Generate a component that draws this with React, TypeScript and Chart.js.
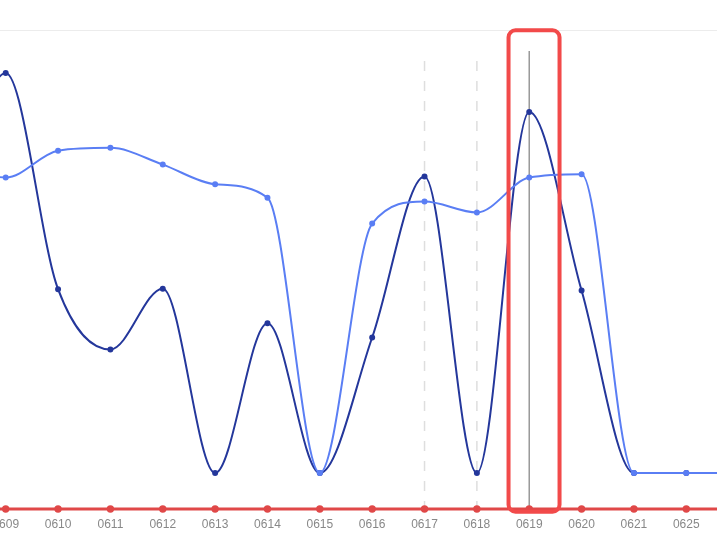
import React, { useEffect, useRef } from "react";
import { Chart, registerables } from "chart.js";

Chart.register(...registerables);

const labels = ["0608", "0609", "0610", "0611", "0612", "0613", "0614", "0615", "0616", "0617", "0618", "0619", "0620", "0621", "0625", "0626"];
const seriesDark = [62, 91.0, 45.9, 33.3, 46.0, 7.5, 38.8, 7.5, 35.8, 69.4, 7.5, 82.9, 45.6, 7.5, 7.5, 7.5];
const seriesLight = [72, 69.2, 74.8, 75.4, 71.9, 67.8, 65.0, 7.5, 59.6, 64.2, 61.9, 69.2, 69.9, 7.5, 7.5, 7.5];
const seriesBase = [0, 0, 0, 0, 0, 0, 0, 0, 0, 0, 0, 0, 0, 0, 0, 0];
const dashedMarks = ["0617", "0618"];
const activeMark = "0619";
const yMin = 0;
const yMax = 100;

const markerPlugin = {
  id: "markers",
  beforeDatasetsDraw(chart: any) {
    const { ctx, chartArea } = chart;
    const xs = chart.scales.x;
    const ys = chart.scales.y;
    ctx.save();
    const ty = Math.round(ys.getPixelForValue(yMax)) + 0.5;
    ctx.strokeStyle = "#ececec";
    ctx.lineWidth = 1;
    ctx.beginPath();
    ctx.moveTo(0, ty);
    ctx.lineTo(chart.width, ty);
    ctx.stroke();
    ctx.strokeStyle = "#dedede";
    ctx.lineWidth = 1.5;
    ctx.setLineDash([10, 10]);
    dashedMarks.forEach((m) => {
      const px = xs.getPixelForValue(labels.indexOf(m));
      ctx.beginPath();
      ctx.moveTo(px, chartArea.top + 31);
      ctx.lineTo(px, chartArea.bottom);
      ctx.stroke();
    });
    ctx.setLineDash([]);
    const ax = xs.getPixelForValue(labels.indexOf(activeMark));
    ctx.strokeStyle = "#999999";
    ctx.lineWidth = 1.5;
    ctx.beginPath();
    ctx.moveTo(ax, chartArea.top + 21);
    ctx.lineTo(ax, chartArea.bottom);
    ctx.stroke();
    ctx.restore();
  },
  afterDatasetsDraw(chart: any) {
    const { ctx, chartArea } = chart;
    const xs = chart.scales.x;
    const ax = xs.getPixelForValue(labels.indexOf(activeMark));
    const l = ax - 20.7;
    const r = ax + 30.3;
    const t = chartArea.top + 0.3;
    const b = chartArea.bottom + 2.7;
    ctx.save();
    ctx.strokeStyle = "#f24a4a";
    ctx.lineWidth = 4;
    ctx.beginPath();
    (ctx as any).roundRect(l, t, r - l, b - t, 7);
    ctx.stroke();
    ctx.restore();
  },
};

export default function App() {
  const ref = useRef<HTMLCanvasElement | null>(null);
  useEffect(() => {
    if (!ref.current) return;
    const chart = new Chart(ref.current, {
      type: "line",
      data: {
        labels,
        datasets: [
          {
            data: seriesLight,
            borderColor: "#5a7ef4",
            backgroundColor: "#5a7ef4",
            borderWidth: 2,
            pointRadius: 2,
            pointHoverRadius: 2,
            cubicInterpolationMode: "monotone",
            clip: false as any,
          },
          {
            data: seriesDark,
            borderColor: "#24379b",
            backgroundColor: "#24379b",
            borderWidth: 2,
            pointRadius: 2,
            pointHoverRadius: 2,
            cubicInterpolationMode: "monotone",
            clip: false as any,
          },
          {
            data: seriesBase,
            borderColor: "#e04848",
            backgroundColor: "#e04848",
            borderWidth: 3,
            pointRadius: 2.2,
            pointHoverRadius: 2.2,
            clip: false as any,
          },
        ],
      },
      options: {
        responsive: false,
        animation: false,
        events: [],
        layout: { padding: { left: 20, right: 20, top: 30, bottom: 0.6 } },
        plugins: { legend: { display: false }, tooltip: { enabled: false } },
        scales: {
          x: {
            offset: false,
            grid: { display: false, drawTicks: false, tickLength: 0 },
            border: { display: false },
            ticks: {
              autoSkip: false,
              maxRotation: 0,
              minRotation: 0,
              padding: 8,
              color: "#888888",
              font: { family: "'Liberation Sans', Arial, sans-serif", size: 12 },
            },
          },
          y: { display: false, min: yMin, max: yMax },
        },
      },
      plugins: [markerPlugin],
    });
    return () => chart.destroy();
  }, []);
  return (
    <div style={{ position: "fixed", left: 0, top: 0, width: 717, height: 533, overflow: "hidden", background: "#fff" }}>
      <div style={{ position: "absolute", left: -68, top: 0, width: 828, height: 540 }}>
        <canvas ref={ref} width={828} height={540} style={{ display: "block", width: 828, height: 540 }} />
      </div>
    </div>
  );
}
